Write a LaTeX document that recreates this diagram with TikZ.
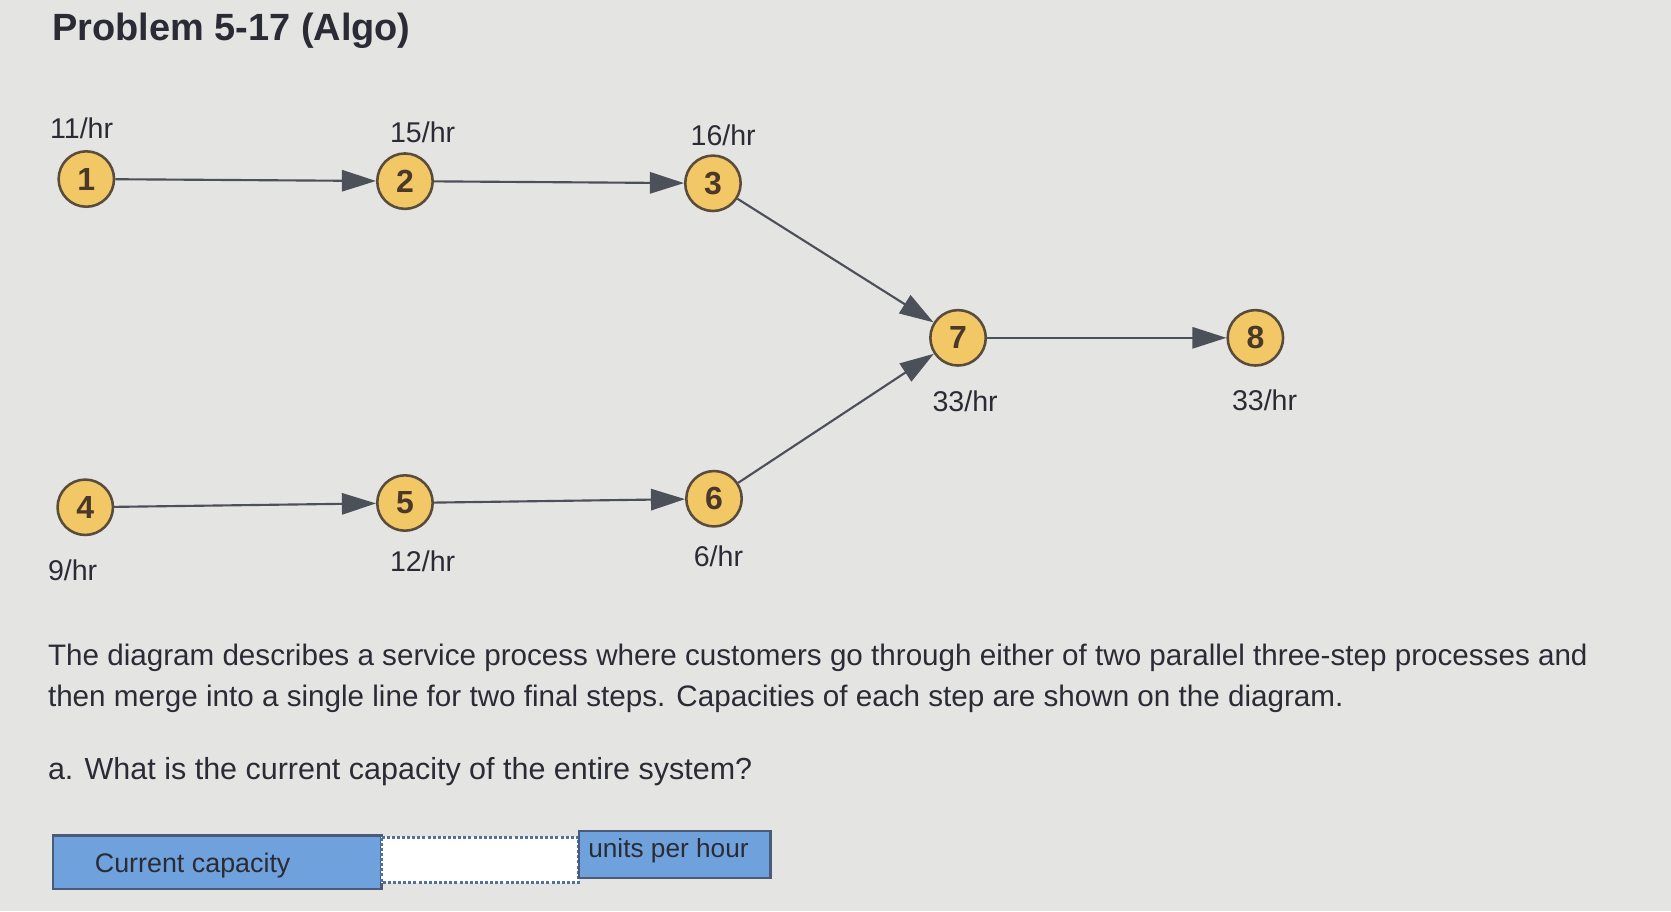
\documentclass[tikz,border=0pt]{standalone}
\usepackage{fontspec}
\setmainfont{Liberation Sans}
\usetikzlibrary{arrows.meta}
\definecolor{paper}{HTML}{E4E4E2}
\definecolor{ink}{HTML}{2B2B36}
\definecolor{stepfill}{HTML}{F2C766}
\definecolor{stepline}{HTML}{5A4C3C}
\definecolor{digit}{HTML}{4A3828}
\definecolor{edge}{HTML}{4C5058}
\definecolor{answerblue}{HTML}{6FA2DC}
\definecolor{answerline}{HTML}{4A5A78}
\begin{document}
\begin{tikzpicture}[x=0.5pt,y=-0.5pt,
    stepcircle/.style={circle,draw=stepline,fill=stepfill,line width=1.2pt,
      minimum size=26pt,inner sep=0pt,text=digit,
      font=\fontsize{15}{15}\selectfont\bfseries},
    rate/.style={anchor=west,text=ink,font=\fontsize{13.4}{13.4}\selectfont},
    flow/.style={draw=edge,line width=1pt,-{Triangle[length=16pt,width=10pt]}}]
  \fill[paper] (0,0) rectangle (1568,855);
  \useasboundingbox (0,0) rectangle (1568,855);

  \node[anchor=west,text=ink,font=\fontsize{17.8}{17.8}\selectfont\bfseries]
    (title) at (42,29) {Problem 5-17 (Algo)};

  % steps
  \node[stepcircle] (s1) at (81,168) {1};
  \node[stepcircle] (s2) at (380,170) {2};
  \node[stepcircle] (s3) at (669,172) {3};
  \node[stepcircle] (s4) at (80,476) {4};
  \node[stepcircle] (s5) at (380,472) {5};
  \node[stepcircle] (s6) at (670,468) {6};
  \node[stepcircle] (s7) at (899,317) {7};
  \node[stepcircle] (s8) at (1178,317) {8};

  \draw[flow] (s1) -- (s2);
  \draw[flow] (s2) -- (s3);
  \draw[flow] (s3) -- (s7);
  \draw[flow] (s4) -- (s5);
  \draw[flow] (s5) -- (s6);
  \draw[flow] (s6) -- (s7);
  \draw[flow] (s7) -- (s8);

  % capacities
  \node[rate] (r1) at (40,120) {11/hr};
  \node[rate] (r2) at (359,124) {15/hr};
  \node[rate] (r3) at (641,127) {16/hr};
  \node[rate] (r4) at (38,535) {9/hr};
  \node[rate] (r5) at (359,527) {12/hr};
  \node[rate] (r6) at (644,522) {6/hr};
  \node[rate] (r7) at (868,377) {33/hr};
  \node[rate] (r8) at (1149,376) {33/hr};

  \node[anchor=north west,align=left,text=ink,
    font=\fontsize{13.9}{19.5}\selectfont] (para) at (38,597)
    {The diagram describes a service process where customers go through either of two parallel three-step processes and\\
     then merge into a single line for two final steps. Capacities of each step are shown on the diagram.};
  \node[anchor=west,text=ink,font=\fontsize{14.3}{14.3}\selectfont]
    (qa) at (38,724) {a. What is the current capacity of the entire system?};

  % answer row
  \draw[answerline,fill=answerblue,line width=1pt] (50,784) rectangle (358,834);
  \draw[white,fill=white] (358,786) rectangle (543,828);
  \draw[answerblue!70!black,densely dotted,line width=1.4pt] (358,786) rectangle (543,828);
  \draw[answerline,fill=answerblue,line width=1pt] (543,780) rectangle (723,824);
  \node[anchor=west,text=ink,font=\fontsize{12.6}{12.6}\selectfont] (cc) at (82,812) {Current capacity};
  \node[anchor=west,text=ink,font=\fontsize{12.3}{12.3}\selectfont] (uph) at (545,798) {units per hour};
\end{tikzpicture}
\end{document}
